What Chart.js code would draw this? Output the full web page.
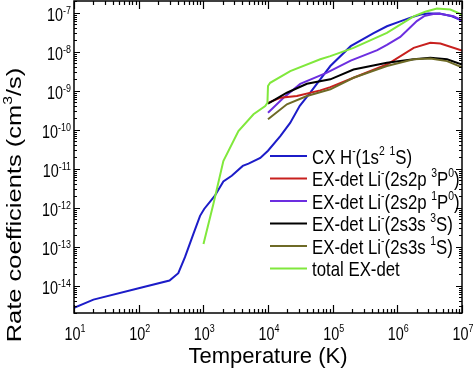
<!DOCTYPE html>
<html>
<head>
<meta charset="utf-8">
<script src="https://cdn.jsdelivr.net/npm/chart.js@4/dist/chart.umd.min.js"></script>
<style>
  html, body { margin: 0; padding: 0; background: #fff; }
  #wrap { width: 474px; height: 368px; position: relative; }
</style>
</head>
<body>
<div id="wrap"><canvas id="chart"></canvas></div>
<script>
// temperatures (K) and rate coefficients (cm^3/s)
const tCX = [10, 20, 100, 300, 410, 520, 700, 890, 1030, 1500, 2040, 2750, 4070, 5000, 7600, 10000, 15500, 22000, 31000, 45000, 92000, 190000, 430000, 690000, 1110000, 1600000, 2300000, 3000000, 4500000, 7000000, 10000000];
const kCX = [2.7e-15, 4.4e-15, 8.6e-15, 1.36e-14, 2.1e-14, 5.4e-14, 2.1e-13, 6.2e-13, 9.3e-13, 2.0e-12, 4.7e-12, 6.6e-12, 1.18e-11, 1.35e-11, 1.9e-11, 2.9e-11, 6.9e-11, 1.5e-10, 4.1e-10, 9e-10, 4.3e-9, 1.39e-8, 3.0e-8, 4.5e-8, 6.0e-8, 7.5e-8, 9.0e-8, 9.6e-8, 9.6e-8, 8.1e-8, 6.3e-8];

const tP1 = [10000, 17400, 31500, 81700, 190000, 490000, 690000, 1110000, 1410000, 2000000, 2600000, 3600000, 4500000, 7400000, 10000000];
const k1P0 = [2.74e-10, 6.6e-10, 1.5e-9, 2.9e-9, 5.9e-9, 1.1e-8, 1.5e-8, 2.4e-8, 3.5e-8, 6.1e-8, 8.2e-8, 9.3e-8, 9.4e-8, 8.1e-8, 6.3e-8];

const tP3 = [10000, 15500, 28000, 64300, 92000, 210000, 690000, 1790000, 3240000, 4630000, 10000000];
const k3P0 = [4.9e-10, 6.6e-10, 7.3e-10, 1.02e-9, 1.24e-9, 2.15e-9, 4.7e-9, 1.26e-8, 1.69e-8, 1.63e-8, 1.08e-8];

const tS = [10000, 19600, 40000, 92000, 210000, 690000, 1790000, 3240000, 5870000, 10000000];
const k3S = [4.66e-10, 8.9e-10, 1.51e-9, 1.96e-9, 3.5e-9, 5.2e-9, 6.4e-9, 7.0e-9, 6.4e-9, 4.7e-9];
const k1S = [1.86e-10, 4.5e-10, 7.3e-10, 1.09e-9, 2.15e-9, 4.3e-9, 6.4e-9, 6.7e-9, 5.75e-9, 4.0e-9];

const tTot = [1005, 1430, 2040, 3490, 5970, 9060, 9800, 10000, 10800, 22100, 64300, 92000, 210000, 690000, 1790000, 2700000, 4100000, 6600000, 10000000];
const kTot = [1.18e-13, 1.24e-12, 1.58e-11, 9.3e-11, 2.49e-10, 4.07e-10, 4.9e-10, 1.32e-9, 1.6e-9, 3.2e-9, 6.4e-9, 7.7e-9, 1.26e-8, 3.04e-8, 8.1e-8, 1.06e-7, 1.29e-7, 1.21e-7, 9.0e-8];

const xTicks = [1, 2, 3, 4, 5, 6, 7];
const yTicks = [-14, -13, -12, -11, -10, -9, -8, -7];

// legend labels: [text, superscript?] runs
const legendItems = [
  { color: "#1c1cc8", runs: [["CX H"], ["-", 1], ["(1s"], ["2", 1], [" "], ["1", 1], ["S)"]] },
  { color: "#c8201e", runs: [["EX-det Li"], ["-", 1], ["(2s2p "], ["3", 1], ["P"], ["0", 1], [")"]] },
  { color: "#6c2ee0", runs: [["EX-det Li"], ["-", 1], ["(2s2p "], ["1", 1], ["P"], ["0", 1], [")"]] },
  { color: "#000000", runs: [["EX-det Li"], ["-", 1], ["(2s3s "], ["3", 1], ["S)"]] },
  { color: "#6e6a26", runs: [["EX-det Li"], ["-", 1], ["(2s3s "], ["1", 1], ["S)"]] },
  { color: "#80e83c", runs: [["total EX-det"]] }
];

function pts(ts, ks) {
  return ts.map((t, i) => ({ x: t, y: ks[i] }));
}

function line(data, color) {
  return {
    data,
    borderColor: color,
    backgroundColor: color,
    borderWidth: 2,
    pointRadius: 0,
    showLine: true,
    tension: 0
  };
}

const FONT = "'Liberation Sans', Arial, sans-serif";

function runsWidth(ctx, runs, size) {
  let w = 0;
  runs.forEach(r => {
    ctx.font = (r[1] ? size * 0.62 : size) + "px " + FONT;
    w += ctx.measureText(r[0]).width;
  });
  return w;
}

function drawRuns(ctx, runs, x, y, size) {
  runs.forEach(r => {
    const sup = !!r[1];
    ctx.font = (sup ? size * 0.62 : size) + "px " + FONT;
    ctx.fillText(r[0], x, sup ? y - size * 0.42 : y);
    x += ctx.measureText(r[0]).width;
  });
}

const frame = {
  id: "frame",
  afterDraw(chart) {
    const ctx = chart.ctx;
    const a = chart.chartArea;
    const xs = chart.scales.x, ys = chart.scales.y;
    const SX = 0.8;
    ctx.save();
    ctx.strokeStyle = "#000";
    ctx.fillStyle = "#000";
    ctx.lineWidth = 1.5;
    ctx.strokeRect(a.left, a.top, a.right - a.left, a.bottom - a.top);

    // inward ticks on all four sides
    ctx.lineWidth = 1.2;
    ctx.beginPath();
    for (let e = 1; e <= 7; e++) {
      for (let m = 1; m <= 9; m++) {
        const v = m * Math.pow(10, e);
        if (v > 1e7) break;
        const px = Math.round(xs.getPixelForValue(v)) + 0.5;
        const len = m === 1 ? 8 : 4;
        ctx.moveTo(px, a.bottom); ctx.lineTo(px, a.bottom - len);
        ctx.moveTo(px, a.top); ctx.lineTo(px, a.top + len);
      }
    }
    for (let e = -15; e <= -7; e++) {
      for (let m = 1; m <= 9; m++) {
        const v = m * Math.pow(10, e);
        if (v < 2e-15 || v > 2e-7) continue;
        const py = Math.round(ys.getPixelForValue(v)) + 0.5;
        const len = m === 1 ? 6 : 3;
        ctx.moveTo(a.left, py); ctx.lineTo(a.left + len, py);
        ctx.moveTo(a.right, py); ctx.lineTo(a.right - len, py);
      }
    }
    ctx.stroke();

    // tick labels
    const ts = 18;
    ctx.textBaseline = "alphabetic";
    ctx.textAlign = "left";
    xTicks.forEach(e => {
      const runs = [["10"], [String(e), 1]];
      const w = runsWidth(ctx, runs, ts) * SX;
      const px = xs.getPixelForValue(Math.pow(10, e));
      ctx.save();
      ctx.translate(px - w / 2 + 1, 340);
      ctx.scale(SX, 1);
      drawRuns(ctx, runs, 0, 0, ts);
      ctx.restore();
    });
    yTicks.forEach(e => {
      const runs = [["10"], [String(e), 1]];
      const w = runsWidth(ctx, runs, ts) * SX;
      const py = ys.getPixelForValue(Math.pow(10, e));
      ctx.save();
      ctx.translate(a.left - 3 - w, py + 8.5);
      ctx.scale(SX, 1);
      drawRuns(ctx, runs, 0, 0, ts);
      ctx.restore();
    });

    // axis titles
    ctx.save();
    ctx.font = "22px " + FONT;
    ctx.textAlign = "center";
    ctx.fillText("Temperature (K)", (a.left + a.right) / 2, 363);
    ctx.restore();

    const yt = [["Rate coefficients (cm"], ["3", 1], ["/s)"]];
    const ytSize = 25.5;
    const ytw = runsWidth(ctx, yt, ytSize);
    ctx.save();
    ctx.translate(21, 205);
    ctx.scale(SX, 1);
    ctx.rotate(-Math.PI / 2);
    drawRuns(ctx, yt, -ytw / 2, 0, ytSize);
    ctx.restore();

    // legend
    const ls = 21;
    legendItems.forEach((it, i) => {
      const y = 156 + i * 22.5;
      ctx.strokeStyle = it.color;
      ctx.lineWidth = 2;
      ctx.beginPath();
      ctx.moveTo(270, y); ctx.lineTo(307, y);
      ctx.stroke();
      ctx.save();
      ctx.translate(312, y + 7.5);
      ctx.scale(SX, 1);
      drawRuns(ctx, it.runs, 0, 0, ls);
      ctx.restore();
    });
    ctx.restore();
  }
};

new Chart(document.getElementById("chart"), {
  type: "scatter",
  data: {
    datasets: [
      line(pts(tTot, kTot), "#80e83c"),
      line(pts(tS, k1S), "#6e6a26"),
      line(pts(tS, k3S), "#000000"),
      line(pts(tP3, k3P0), "#c8201e"),
      line(pts(tP1, k1P0), "#6c2ee0"),
      line(pts(tCX, kCX), "#1c1cc8")
    ]
  },
  options: {
    responsive: true,
    maintainAspectRatio: false,
    animation: false,
    layout: { padding: { left: 74, right: 12, top: 1, bottom: 55 } },
    plugins: { legend: { display: false }, tooltip: { enabled: false } },
    scales: {
      x: { type: "logarithmic", min: 10, max: 1e7, display: false },
      y: { type: "logarithmic", min: 2e-15, max: 2e-7, display: false }
    }
  },
  plugins: [frame]
});
</script>
</body>
</html>
